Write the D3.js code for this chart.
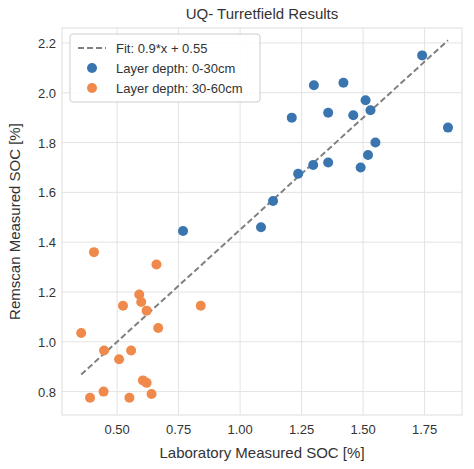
<!DOCTYPE html><html><head><script src="https://cdn.jsdelivr.net/npm/d3@7"></script>
<style>body{margin:0;background:#fff}text{font-family:"Liberation Sans",Arial,sans-serif}</style></head><body>
<svg id="c" width="474" height="469"></svg>
<script>
const blueX=[0.768,1.085,1.134,1.236,1.297,1.30,1.358,1.358,1.42,1.21,1.46,1.51,1.52,1.53,1.55,1.49,1.74,1.845];
const blueY=[1.445,1.46,1.565,1.675,1.71,2.03,1.92,1.72,2.04,1.90,1.91,1.97,1.75,1.93,1.80,1.70,2.15,1.86];
const orX=[0.406,0.354,0.447,0.39,0.445,0.508,0.524,0.557,0.55,0.59,0.598,0.62,0.605,0.62,0.64,0.667,0.66,0.84];
const orY=[1.36,1.035,0.965,0.775,0.80,0.93,1.145,0.965,0.775,1.19,1.16,1.125,0.845,0.835,0.79,1.055,1.31,1.145];
const xTicks=[0.5,0.75,1.0,1.25,1.5,1.75];
const yTicks=[0.8,1.0,1.2,1.4,1.6,1.8,2.0,2.2];
const fitRange=[0.354,1.845];
const svg=d3.select("#c");
const L=62,R=462,T=28,B=415;
const x=d3.scaleLinear().domain([0.276,1.902]).range([L,R]);
const y=d3.scaleLinear().domain([0.706,2.26]).range([B,T]);
svg.append("rect").attr("x",L).attr("y",T).attr("width",R-L).attr("height",B-T).attr("fill","#fff").attr("stroke","#ddd");
svg.selectAll(".gx").data(xTicks).join("line").attr("x1",d=>x(d)).attr("x2",d=>x(d)).attr("y1",T).attr("y2",B).attr("stroke","#e3e3e3");
svg.selectAll(".gy").data(yTicks).join("line").attr("y1",d=>y(d)).attr("y2",d=>y(d)).attr("x1",L).attr("x2",R).attr("stroke","#e3e3e3");
svg.selectAll(".tx").data(xTicks).join("text").attr("x",d=>x(d)).attr("y",B+19).attr("text-anchor","middle").attr("font-size",13).attr("fill","#333").text(d=>d.toFixed(2));
svg.selectAll(".ty").data(yTicks).join("text").attr("x",L-6).attr("y",d=>y(d)+5).attr("text-anchor","end").attr("font-size",13).attr("fill","#333").text(d=>d.toFixed(1));
svg.append("text").attr("x",(L+R)/2).attr("y",B+43).attr("text-anchor","middle").attr("font-size",15).attr("fill","#333").text("Laboratory Measured SOC [%]");
svg.append("text").attr("transform",`translate(20,${(T+B)/2}) rotate(-90)`).attr("text-anchor","middle").attr("font-size",15).attr("fill","#333").text("Remscan Measured SOC [%]");
svg.append("text").attr("x",(L+R)/2).attr("y",T-9).attr("text-anchor","middle").attr("font-size",15).attr("fill","#333").text("UQ- Turretfield Results");
svg.append("line").attr("x1",x(fitRange[0])).attr("y1",y(0.9*fitRange[0]+0.55)).attr("x2",x(fitRange[1])).attr("y2",y(0.9*fitRange[1]+0.55)).attr("stroke","#808080").attr("stroke-width",2).attr("stroke-dasharray","6,3");
const blue="#3a75b0",orange="#ef8a4c";
svg.selectAll(".b").data(blueX).join("circle").attr("cx",d=>x(d)).attr("cy",(d,i)=>y(blueY[i])).attr("r",5).attr("fill",blue);
svg.selectAll(".o").data(orX).join("circle").attr("cx",d=>x(d)).attr("cy",(d,i)=>y(orY[i])).attr("r",5).attr("fill",orange);
const lg=svg.append("g").attr("transform",`translate(${L+8},${T+6})`);
lg.append("rect").attr("width",190).attr("height",68).attr("rx",3).attr("fill","#fff").attr("fill-opacity",0.85).attr("stroke","#ccc");
lg.append("line").attr("x1",8).attr("x2",36).attr("y1",14).attr("y2",14).attr("stroke","#808080").attr("stroke-width",2).attr("stroke-dasharray","6,3");
lg.append("circle").attr("cx",22).attr("cy",34).attr("r",5).attr("fill",blue);
lg.append("circle").attr("cx",22).attr("cy",54).attr("r",5).attr("fill",orange);
[["Fit: 0.9*x + 0.55",14],["Layer depth: 0-30cm",34],["Layer depth: 30-60cm",54]].forEach(([t,yy])=>lg.append("text").attr("x",46).attr("y",yy+5).attr("font-size",13).attr("fill","#333").text(t));
</script></body></html>
